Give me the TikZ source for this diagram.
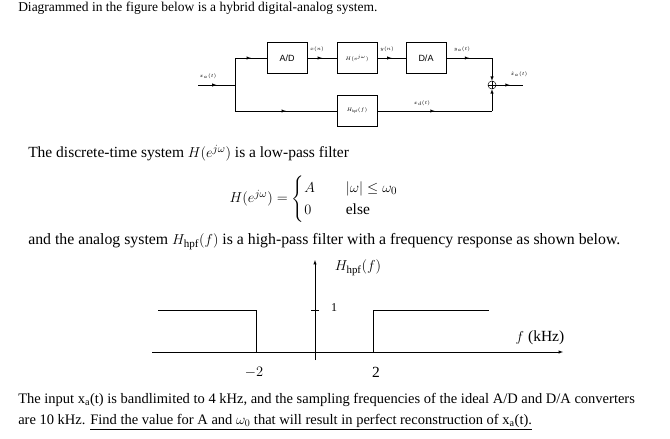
\documentclass[tikz,border=0pt]{standalone}
\usepackage{amsmath,amssymb}
\usepackage{fontspec}
\setmainfont{Liberation Serif}
\newfontfamily\blocksans{Liberation Sans}
\usetikzlibrary{positioning,calc}
\usetikzlibrary{decorations.markings}
\tikzset{
  blk/.style={draw, minimum width=40pt, minimum height=31pt, inner sep=0pt},
  midarrow/.style={decoration={markings, mark=at position .5 with {\arrow{latex}}}, postaction={decorate}},
  sig/.style={font=\fontsize{5.5}{6}\selectfont, inner sep=0.5pt},
  txt/.style={anchor=west, font=\fontsize{14.5}{17}\selectfont, inner sep=0pt},
  big/.style={font=\fontsize{15.5}{18}\selectfont}
}
\begin{document}
\begin{tikzpicture}[x=1pt, y=-1pt, line width=0.5pt]
        \useasboundingbox (0,0) rectangle (670,439);

        % heading
        \node[txt, font=\fontsize{13.5}{16}\selectfont] (head) at (18,8) {Diagrammed in the figure below is a hybrid digital-analog system.};

        % block diagram
        \coordinate (in) at (198,85);
        \coordinate (jn) at (235,85);
        \coordinate (jtop) at (235,58);
        \coordinate (jbot) at (235,111);
        \node[blk, font=\blocksans\small] (ad) at (287,58) {A/D};
        \node[blk, sig] (h) at (357,58) {$H(e^{j\omega})$};
        \node[blk, font=\blocksans\small] (da) at (426,58) {D/A};
        \node[blk, sig] (hpf) at (357,111) {$H_{\mathrm{hpf}}(f)$};
        \node[draw, circle, inner sep=0pt, minimum size=8pt] (sum) at (492,85) {};
        \draw (sum.north) -- (sum.south) (sum.west) -- (sum.east);
        \coordinate (out) at (523,85);
        \coordinate (stop) at (492,58);
        \coordinate (sbot) at (492,111);

        \draw[midarrow] (in) -- (jn);
        \draw (jn) -- (jtop) (jn) -- (jbot);
        \draw[midarrow] (jtop) -- (ad);
        \draw[midarrow] (ad) -- (h);
        \draw[midarrow] (h) -- (da);
        \draw[midarrow] (da.east) -- (stop);
        \draw[-latex] (stop) -- (sum.north);
        \draw[midarrow] (jbot) -- (hpf);
        \draw[midarrow] (hpf) -- (sbot);
        \draw[-latex] (sbot) -- (sum.south);
        \draw[midarrow] (sum) -- (out);

        \node[sig] (lxa) at (208,76) {$x_a(t)$};
        \node[sig] (lxn) at (317,49) {$x(n)$};
        \node[sig] (lyn) at (387,49) {$y(n)$};
        \node[sig] (lya) at (462,49) {$y_a(t)$};
        \node[sig] (lxh) at (519,74) {$\hat{x}_a(t)$};
        \node[sig] (lxd) at (422,103) {$x_d(t)$};

        % low-pass filter
        \node[txt, big] (lpf) at (28,153) {The discrete-time system $H(e^{j\omega})$ is a low-pass filter};
        \node[big, inner sep=0pt] (eq) at (314,199)
          {$H(e^{j\omega})=\begin{cases}A & \quad|\omega|\le\omega_0\\ 0 & \quad\text{else}\end{cases}$};
        \node[txt, font=\fontsize{15.8}{18}\selectfont] (hpt) at (28,242) {and the analog system $H_{\mathrm{hpf}}(f)$ is a high-pass filter with a frequency response as shown below.};

        % frequency response
        \coordinate (xl) at (152,352);
        \coordinate (xr) at (563,352);
        \coordinate (yb) at (315,360);
        \coordinate (yt) at (315,260);
        \draw[-latex] (xl) -- (xr);
        \draw[-latex] (yb) -- (yt);
        \draw (158,310) -- (256,310) -- (256,352);
        \draw (373,352) -- (373,310) -- (489,310);
        \draw (311,310) -- (319,310);
        \node[big] (hl) at (358,268) {$H_{\mathrm{hpf}}(f)$};
        \node[font=\fontsize{12}{14}\selectfont] (one) at (334,308) {1};
        \node[big] (fl) at (540,338) {$f$ (kHz)};
        \node[big] (m2) at (254,372) {$-2$};
        \node[big] (p2) at (376,372) {2};

        % question
        \node[txt] (q1) at (18,400) {The input x\textsubscript{a}(t) is bandlimited to 4 kHz, and the sampling frequencies of the ideal A/D and D/A converters};
        \node[txt] (q2) at (18,422) {are 10 kHz. \underline{Find the value for A and $\omega_0$ that will result in perfect reconstruction of x\textsubscript{a}(t).}};
\end{tikzpicture}
\end{document}
